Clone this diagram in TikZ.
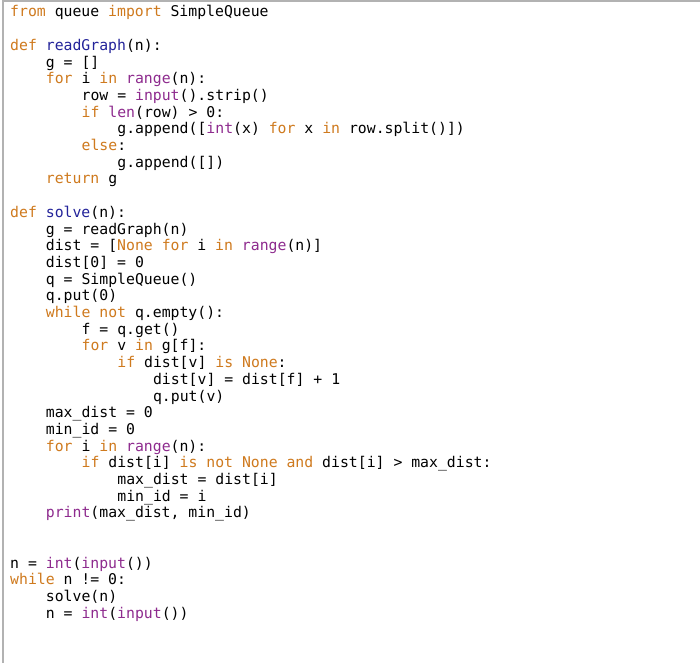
\documentclass[tikz,border=0pt]{standalone}
\usepackage{fontspec}
\setmonofont{DejaVu Sans Mono}
\definecolor{kwc}{HTML}{CF7A1E}
\definecolor{bic}{HTML}{8E2B8E}
\definecolor{fnc}{HTML}{23239A}
\newcommand{\kw}[1]{\textcolor{kwc}{#1}}
\newcommand{\bi}[1]{\textcolor{bic}{#1}}
\newcommand{\fnm}[1]{\textcolor{fnc}{#1}}
\tikzset{codeline/.style={anchor=base west,inner sep=0pt,font=\ttfamily\fontsize{14.8}{16}\selectfont}}
\newcommand{\cl}[4]{\node[codeline] (#1) at ({10+8.93*#2},{663-12-5-16.7*#3}) {#4};}
\begin{document}
\begin{tikzpicture}[x=1pt,y=1pt]
\useasboundingbox (0,0) rectangle (700,663);
\fill[white] (0,0) rectangle (700,663);
\draw[gray!60,line width=1.5] (3,0) -- (3,662) -- (700,662);
\cl{l0}{0}{0}{\kw{from} queue \kw{import} SimpleQueue}
\cl{l2}{0}{2}{\kw{def} \fnm{readGraph}(n):}
\cl{l3}{4}{3}{g = []}
\cl{l4}{4}{4}{\kw{for} i \kw{in} \bi{range}(n):}
\cl{l5}{8}{5}{row = \bi{input}().strip()}
\cl{l6}{8}{6}{\kw{if} \bi{len}(row) > 0:}
\cl{l7}{12}{7}{g.append([\bi{int}(x) \kw{for} x \kw{in} row.split()])}
\cl{l8}{8}{8}{\kw{else}:}
\cl{l9}{12}{9}{g.append([])}
\cl{l10}{4}{10}{\kw{return} g}
\cl{l12}{0}{12}{\kw{def} \fnm{solve}(n):}
\cl{l13}{4}{13}{g = readGraph(n)}
\cl{l14}{4}{14}{dist = [\kw{None} \kw{for} i \kw{in} \bi{range}(n)]}
\cl{l15}{4}{15}{dist[0] = 0}
\cl{l16}{4}{16}{q = SimpleQueue()}
\cl{l17}{4}{17}{q.put(0)}
\cl{l18}{4}{18}{\kw{while} \kw{not} q.empty():}
\cl{l19}{8}{19}{f = q.get()}
\cl{l20}{8}{20}{\kw{for} v \kw{in} g[f]:}
\cl{l21}{12}{21}{\kw{if} dist[v] \kw{is} \kw{None}:}
\cl{l22}{16}{22}{dist[v] = dist[f] + 1}
\cl{l23}{16}{23}{q.put(v)}
\cl{l24}{4}{24}{max\_dist = 0}
\cl{l25}{4}{25}{min\_id = 0}
\cl{l26}{4}{26}{\kw{for} i \kw{in} \bi{range}(n):}
\cl{l27}{8}{27}{\kw{if} dist[i] \kw{is} \kw{not} \kw{None} \kw{and} dist[i] > max\_dist:}
\cl{l28}{12}{28}{max\_dist = dist[i]}
\cl{l29}{12}{29}{min\_id = i}
\cl{l30}{4}{30}{\bi{print}(max\_dist, min\_id)}
\cl{l33}{0}{33}{n = \bi{int}(\bi{input}())}
\cl{l34}{0}{34}{\kw{while} n != 0:}
\cl{l35}{4}{35}{solve(n)}
\cl{l36}{4}{36}{n = \bi{int}(\bi{input}())}
\end{tikzpicture}
\end{document}
